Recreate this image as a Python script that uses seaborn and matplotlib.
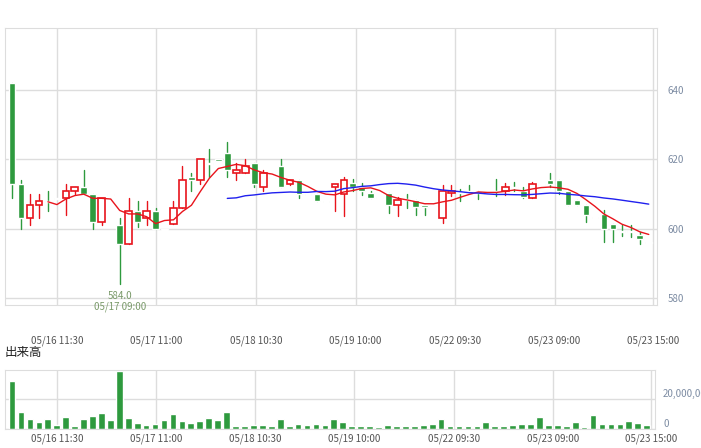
import matplotlib
matplotlib.use("Agg")
import matplotlib.pyplot as plt
import seaborn as sns
import pandas as pd
import numpy as np

sns.set_style("white")
plt.rcParams['font.family'] = ['Noto Sans CJK JP', 'DejaVu Sans']

opens = [642, 613, 603, 607, 608, 609, 609, 611, 612, 610, 602, 610, 601, 595.5, 605, 603, 605, 600,
         601.5, 606, 615, 614, 619, 620, 622, 616, 616, 619, 612, 615, 618, 613, 614, 610, 610, 608,
         612, 610.1, 613.2, 612.2, 610.3, 609.1, 610.3, 606.9, 608.7, 608.2, 606.9, 606.8, 603.2, 610.3,
         610.6, 611, 611, 610.3, 611, 611, 612.2, 611, 609, 613, 614.2, 614.2, 611, 608.4, 607, 603.4,
         604.3, 601.4, 599.3, 599.3, 598.1, 596.2]
closes = [613, 603, 607, 608, 608, 609, 611, 612, 610, 602, 609, 610, 595.5, 605, 602, 605, 600, 600,
          606, 614, 614, 620, 619, 620, 617, 617, 618, 613, 616, 615, 612, 614, 610, 610, 608, 608,
          613, 614.2, 612, 611, 608.9, 609.1, 606.9, 608.2, 608.7, 606.2, 606.2, 606.8, 611, 611,
          610.6, 610.3, 610.3, 610.3, 611, 612.2, 612.2, 609.1, 613, 613, 613, 611, 607, 607, 604, 603.4,
          600, 600, 599.3, 599.3, 597.1, 596.2]
highs = [642, 614, 610, 610, 611, 609, 613, 612, 617, 610, 609, 610, 603, 609, 608, 608, 606, 600,
         608, 618, 616, 620, 623, 620, 625, 619, 620, 619, 617, 615, 620, 614, 614, 610, 610, 608,
         613, 615, 614.5, 613.2, 611, 609.1, 610.3, 609.3, 610, 608.2, 606.9, 606.8, 612.5, 612.5,
         611.5, 612.5, 611, 610.3, 614.5, 613.2, 613.5, 612, 613.5, 613, 616.1, 614.2, 611, 608.4, 607, 603.4,
         605.5, 601.4, 601, 601, 599, 596.2]
lows = [609, 600, 601, 603, 605, 609, 604, 610, 610, 600, 601, 610, 584, 595.5, 600.5, 601, 600, 600,
        601.5, 606, 611, 613, 615, 620, 615, 614, 616, 612, 611, 615, 612, 612.5, 609, 610, 608, 608,
        605, 603.7, 611, 609.8, 608.9, 609.1, 604.5, 603.6, 606, 604, 604, 606.8, 601.7, 609.5,
        608, 610.3, 608.5, 610.3, 609.5, 609.8, 611, 609, 608.9, 613, 612, 610, 607, 607, 602, 603.4,
        596.2, 596.2, 598, 597.5, 595.5, 596.2]
volume_m = [31.9, 11.7, 6.7, 4.9, 6.7, 2.7, 8.1, 2.0, 6.7, 8.8, 10.8, 6.1, 38.7, 7.4, 4.0, 2.7, 3.4, 6.1,
            10.1, 5.4, 4.0, 5.4, 7.4, 6.1, 11.7, 2.0, 2.0, 2.7, 2.7, 2.0, 6.7, 2.0, 3.4, 2.7, 3.4, 2.7,
            6.7, 4.7, 2.0, 2.0, 2.0, 1.3, 2.7, 2.0, 2.0, 2.0, 2.7, 3.4, 6.7, 2.0, 2.0, 2.0, 2.0, 4.7,
            2.0, 2.0, 2.7, 3.4, 3.4, 8.1, 2.7, 2.7, 2.0, 4.7, 1.3, 9.4, 3.4, 3.4, 3.4, 5.4, 4.0, 3.0]
tick_labels = ["05/16 11:30", "05/17 11:00", "05/18 10:30", "05/19 10:00", "05/22 09:30", "05/23 09:00", "05/23 15:00"]
tick_pos = [5.0, 16.1, 27.2, 38.3, 49.4, 60.5, 71.5]

df = pd.DataFrame({"i": np.arange(len(opens)), "open": opens, "close": closes,
                   "high": highs, "low": lows, "vol": np.array(volume_m) * 1e6})
df["ma5"] = df["close"].rolling(5).mean()
df["ma25"] = df["close"].rolling(25).mean()

green = "#2e9a3e"
red = "#e8141c"
grid = "#dddddd"
tcol = "#7d8ca3"

fig = plt.figure(figsize=(7.01, 4.48), dpi=100)
ax = fig.add_axes([0.007, 0.319, 0.93, 0.619])
axv = fig.add_axes([0.007, 0.042, 0.927, 0.132])

up = df["close"] > df["open"]
# wicks
for _, r in df.iterrows():
    c = red if r["close"] > r["open"] else green
    ax.plot([r["i"], r["i"]], [r["low"], r["high"]], color=c, lw=1, zorder=2)
d = df[~up]
ax.bar(d["i"], (d["close"] - d["open"]).where(lambda s: s.abs() > 0.15, -0.3), bottom=d["open"],
       width=0.75, color=green, zorder=3)
d = df[up]
ax.bar(d["i"], d["close"] - d["open"], bottom=d["open"], width=0.75, color="white",
       edgecolor=red, linewidth=1.2, zorder=3)
sns.lineplot(data=df, x="i", y="ma5", ax=ax, color=red, lw=1, zorder=4)
sns.lineplot(data=df, x="i", y="ma25", ax=ax, color="#2020ee", lw=1, zorder=4)

ax.set_xlim(-0.8, 71.9)
ax.set_ylim(578, 658)
ax.yaxis.tick_right()
ax.set_yticks([580, 600, 620, 640])
ax.set_xticks(tick_pos)
ax.set_xticklabels(tick_labels)
ax.grid(True, color=grid, lw=1)
ax.tick_params(length=0, labelsize=7, colors=tcol, pad=8)
ax.tick_params(axis="x", colors="#555555", pad=22)
ax.set_xlabel("")
ax.set_ylabel("")
for s in ax.spines.values():
    s.set_color(grid)
ax.text(12, 582, "584.0", ha="center", va="top", fontsize=7, color="#7a9a6a")
ax.text(12, 579, "05/17 09:00", ha="center", va="top", fontsize=7, color="#7a9a6a")

axv.bar(df["i"], df["vol"], width=0.75, color=green)
axv.set_xlim(-0.8, 71.9)
axv.set_ylim(0, 39.3e6)
axv.yaxis.tick_right()
axv.set_yticks([0, 20e6])
axv.set_yticklabels(["0", "20,000,000"])
for t in axv.get_yticklabels():
    t.set_va("bottom")
axv.set_xticks(tick_pos)
axv.set_xticklabels(tick_labels)
axv.grid(True, color=grid, lw=1)
axv.tick_params(length=0, labelsize=7, colors=tcol, pad=6)
axv.tick_params(axis="x", colors="#555555", pad=3)
for s in axv.spines.values():
    s.set_color(grid)
fig.text(0.007, 0.205, "出来高", fontsize=9, color="#222222")

fig.savefig("out.png", dpi=100)
